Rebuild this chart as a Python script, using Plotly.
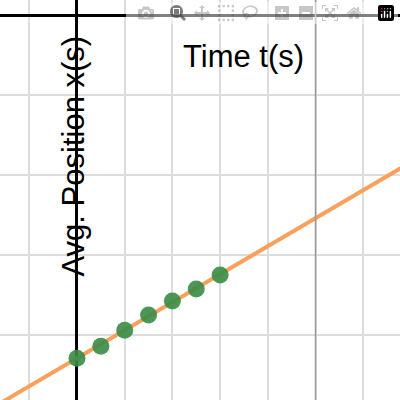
import plotly.graph_objects as go

t_data = [0, 0.5, 1.0, 1.5, 2.0, 2.5, 3.0]
x_data = [-4.29, -4.14, -3.94, -3.75, -3.575, -3.425, -3.25]
fit_t = [-1.7, 7.0]
slope, intercept = 0.35, -4.29
fit_x = [slope * t + intercept for t in fit_t]

fig = go.Figure()
fig.add_vline(x=5, line_color="#999999", line_width=1.5, layer="above")
fig.add_trace(go.Scatter(x=fit_t, y=fit_x, mode="lines",
                         line=dict(color="#f9a15c", width=4)))
fig.add_trace(go.Scatter(x=t_data, y=x_data, mode="markers",
                         marker=dict(color="#388c46", size=17, opacity=0.9)))

fig.add_annotation(x=306 / 400, y=1 - 37 / 400, xref="paper", yref="paper",
                   text="Time t(s)", showarrow=False,
                   font=dict(size=31, color="black", family="Liberation Sans"))
fig.add_annotation(x=53 / 400, y=1 - 156 / 400, xref="paper", yref="paper",
                   text="Avg. Position x(s)", showarrow=False, textangle=-90,
                   font=dict(size=31, color="black", family="Liberation Sans"))

fig.update_xaxes(range=[-1.614, 6.771], dtick=1, showgrid=True, gridcolor="#dddddd",
                 gridwidth=1.5, zeroline=True, zerolinecolor="black", zerolinewidth=2.5,
                 showticklabels=False, ticks="")
fig.update_yaxes(range=[-4.8125, 0.1875], dtick=1, showgrid=True, gridcolor="#dddddd",
                 gridwidth=1.5, zeroline=True, zerolinecolor="black", zerolinewidth=2.5,
                 showticklabels=False, ticks="")
fig.update_layout(width=400, height=400, margin=dict(l=0, r=0, t=0, b=0),
                  plot_bgcolor="white", paper_bgcolor="white", showlegend=False)
fig.write_html("out.html", post_script="document.body.style.margin='0';")
